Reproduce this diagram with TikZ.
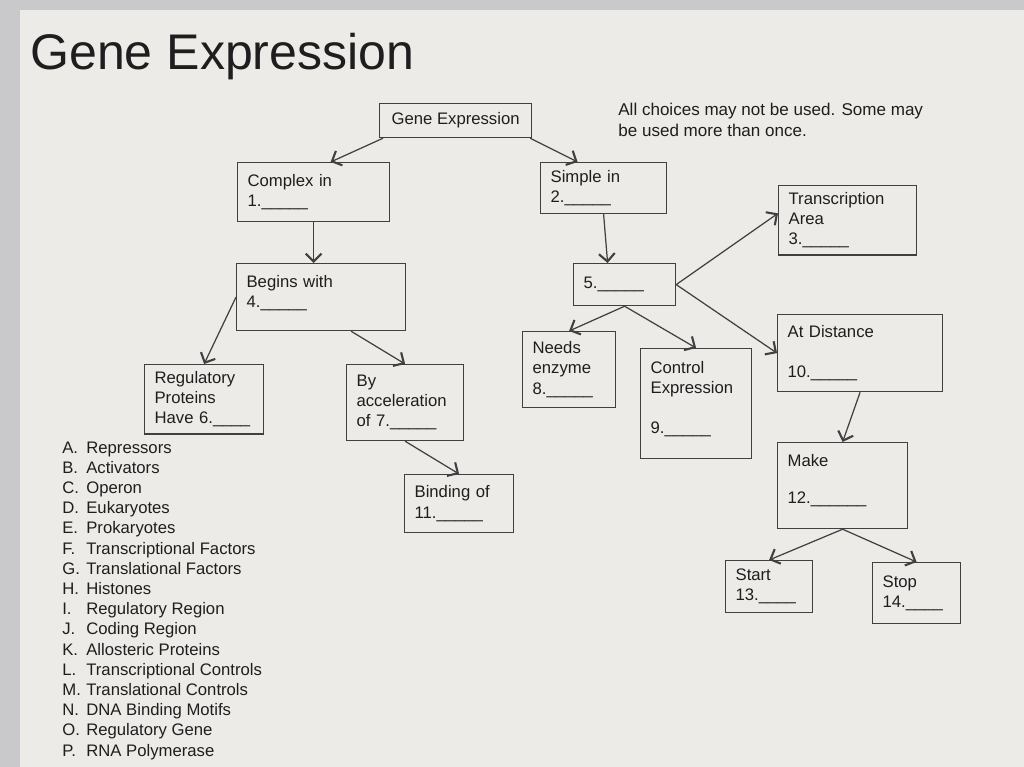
\documentclass[tikz,border=0pt]{standalone}
\usepackage{fontspec}
\setmainfont{Liberation Sans}
\usepackage{tikz}
\usetikzlibrary{arrows.meta,calc}
\definecolor{screen}{RGB}{201,200,202}
\definecolor{paper}{RGB}{236,235,232}
\definecolor{ink}{RGB}{30,30,30}

\begin{document}
\begin{tikzpicture}[
  x=0.02cm, y=-0.02cm,
  box/.style={draw=ink!85,line width=0.7pt,anchor=north west,align=left,inner xsep=0.2cm,inner ysep=0.14cm,
    font=\fontsize{9.5}{11.4}\selectfont,text=ink},
  note/.style={anchor=north west,align=left,inner sep=0pt,font=\fontsize{9.7}{11.6}\selectfont,text=ink},
  item/.style={anchor=base west,inner sep=0pt,font=\fontsize{9.5}{11.4}\selectfont,text=ink},
  arr/.style={-{Straight Barb[length=4.5pt,width=9pt,line width=1.2pt]},ink!85,line width=0.7pt}
]
\useasboundingbox (0,0) rectangle (1024,767);
\fill[screen] (0,0) rectangle (1024,767);
\fill[paper] (20,10) rectangle (1024,767);
% title
\node[anchor=base west,inner sep=0pt,font=\fontsize{28.5}{32}\selectfont,text=ink] (title) at (30,70) {Gene Expression};
\node[note] (hint) at (618,103) {All choices may not be used. Some may\\be used more than once.};
% boxes
\node[box,minimum width=3.04cm,minimum height=0.68cm,align=center] (ge) at (379,103) {Gene Expression};
\node[box,text width=2.64cm,minimum height=1.18cm] (c1) at (237,162) {Complex in\\1.\_\_\_\_\_};
\node[box,text width=2.12cm,minimum height=1.02cm] (s2) at (540,162) {Simple in\\2.\_\_\_\_\_};
\node[box,text width=2.36cm,minimum height=1.38cm] (ta3) at (778,185) {Transcription\\Area\\3.\_\_\_\_\_};
\node[box,text width=2.98cm,minimum height=1.34cm] (b4) at (236,263) {Begins with\\4.\_\_\_\_\_\\[-5pt]\mbox{}};
\node[box,text width=1.64cm,minimum height=0.84cm] (f5) at (573,263) {5.\_\_\_\_\_};
\node[box,text width=1.98cm,minimum height=1.34cm] (rp6) at (144,364) {Regulatory\\Proteins\\Have 6.\_\_\_\_};
\node[box,text width=1.94cm,minimum height=1.52cm] (by7) at (346,364) {By\\acceleration\\of 7.\_\_\_\_\_};
\node[box,text width=1.46cm,minimum height=1.52cm] (ne8) at (522,331) {Needs\\enzyme\\8.\_\_\_\_\_};
\node[box,text width=1.82cm,minimum height=2.2cm] (ce9) at (640,348) {Control\\Expression\\[11.4pt]9.\_\_\_\_\_\\[-4pt]\mbox{}};
\node[box,text width=2.9cm,minimum height=1.54cm] (ad10) at (777,314) {At Distance\\[11.4pt]10.\_\_\_\_\_};
\node[box,text width=1.78cm,minimum height=1.16cm] (b11) at (404,474) {Binding of\\11.\_\_\_\_\_};
\node[box,text width=2.2cm,minimum height=1.72cm] (m12) at (777,442) {Make\\[10pt]12.\_\_\_\_\_\_\\[-4pt]\mbox{}};
\node[box,text width=1.34cm,minimum height=1.04cm] (st13) at (725,560) {Start\\13.\_\_\_\_};
\node[box,text width=1.36cm,minimum height=1.22cm] (sp14) at (872,562) {Stop\\14.\_\_\_\_};
% connectors
\draw[arr] ([xshift=0.08cm]ge.south west) -- ([xshift=0.34cm]c1.north);
\draw[arr] ([xshift=-0.04cm]ge.south east) -- ([xshift=-0.52cm]s2.north);
\draw[arr] (c1.south) -- (c1.south |- b4.north);
\draw[arr] (s2.south) -- ([xshift=-0.34cm]f5.north);
\draw[arr] (f5.east) -- ([yshift=0.14cm]ta3.west);
\draw[arr] (f5.east) -- (ad10.west);
\draw[arr] (f5.south) -- (ne8.north);
\draw[arr] (f5.south) -- (ce9.north);
\draw[arr] (b4.west) -- (rp6.north);
\draw[arr] ([xshift=0.6cm]b4.south) -- (by7.north);
\draw[arr] (by7.south) -- (b11.north);
\draw[arr] (ad10.south) -- (m12.north);
\draw[arr] (m12.south) -- (st13.north);
\draw[arr] (m12.south) -- (sp14.north);
% answer list
\foreach \l/\t [count=\i] in {A/Repressors,B/Activators,C/Operon,D/Eukaryotes,E/Prokaryotes,
  F/Transcriptional Factors,G/Translational Factors,H/Histones,I/Regulatory Region,J/Coding Region,
  K/Allosteric Proteins,L/Transcriptional Controls,M/Translational Controls,N/DNA Binding Motifs,
  O/Regulatory Gene,P/RNA Polymerase}{
  \node[item] (k\i) at (62,{453+(\i-1)*20.2}) {\l.};
  \node[item] (w\i) at (86,{453+(\i-1)*20.2}) {\t};
}
\end{tikzpicture}
\end{document}
